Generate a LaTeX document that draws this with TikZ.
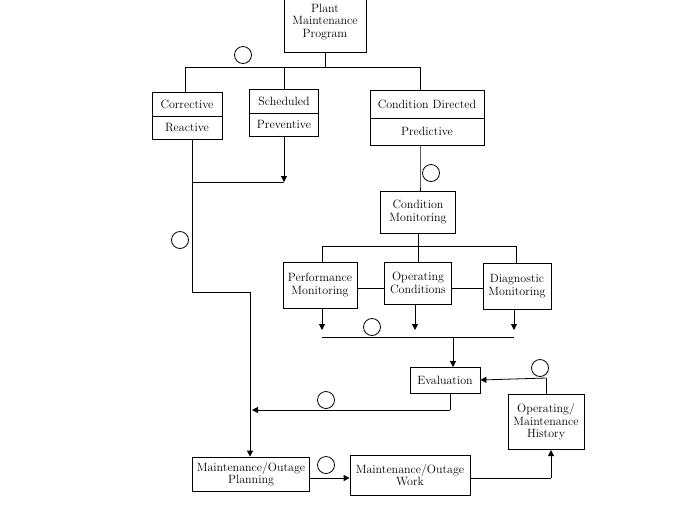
\documentclass[tikz,border=0pt]{standalone}
\usetikzlibrary{shapes.multipart,arrows.meta}
\begin{document}
\begin{tikzpicture}[x=1pt,y=-1pt,font=\normalsize,
 box/.style={draw,thick,align=center,inner sep=1pt,font=\fontsize{12}{12.5}\selectfont},
 split/.style={draw,thick,rectangle split,rectangle split parts=2,align=center,inner ysep=7pt,inner xsep=2pt,font=\fontsize{12}{13}\selectfont},
 circ/.style={draw,thick,circle,minimum size=17pt,inner sep=0pt},
 ln/.style={thick},
 ar/.style={thick,-{Triangle[length=6pt,width=6pt]}}]
\useasboundingbox (0,0) rectangle (700,507);
\node[box,minimum width=82,minimum height=60] (pm) at (325,22) {Plant\\Maintenance\\Program};
\node[circ] (c1) at (243,55) {};
\node[split,minimum width=70] (cr) at (187,116) {Corrective\nodepart{two}Reactive};
\node[split,minimum width=69] (sp) at (284,113) {Scheduled\nodepart{two}Preventive};
\node[split,minimum width=114,inner ysep=9pt] (cd) at (427,118) {Condition Directed\nodepart{two}Predictive};
\coordinate (t1) at (185,67); \coordinate (t2) at (420,67); \coordinate (tm) at (325,67);
\draw[ln] (pm.south) -- (tm);
\draw[ln] (t1) -- (t2);
\draw[ln] (t1) -- (t1 |- cr.north);
\draw[ln] (tm -| sp.north) -- (sp.north);
\draw[ln] (t2) -- (t2 |- cd.north);
\coordinate (s1) at (284,182); \coordinate (l1) at (192,182);
\draw[ar] (sp.south) -- (s1);
\draw[ln] (l1) -- (s1);
\coordinate (l2) at (192,292); \coordinate (l3) at (250,292);
\draw[ln] (cr.south -| l1) -- (l2) -- (l3);
\node[circ] (c2) at (180,240) {};
\node[circ] (c3) at (431,173) {};
\node[box,minimum width=75,minimum height=42] (cm) at (418,212) {Condition\\Monitoring};
\draw[ln] (cd.south -| 420,0) -- (420,185) -- (cm.north -| 420,0);
\coordinate (h1) at (322,246); \coordinate (h2) at (516,246);
\draw[ln] (cm.south) -- (cm.south |- h1);
\draw[ln] (h1) -- (h2);
\node[box,minimum width=74,minimum height=46] (pf) at (320,285) {Performance\\Monitoring};
\node[box,minimum width=67,minimum height=42] (oc) at (418,283) {Operating\\Conditions};
\node[box,minimum width=68,minimum height=46] (dm) at (517,286) {Diagnostic\\Monitoring};
\draw[ln] (h1) -- (h1 |- pf.north);
\draw[ln] (418,246) -- (oc.north);
\draw[ln] (h2) -- (h2 |- dm.north);
\draw[ln] (pf.east |- 0,288) -- (oc.west |- 0,288);
\draw[ln] (oc.east |- 0,288) -- (dm.west |- 0,288);
\coordinate (b1) at (322,337); \coordinate (b2) at (514,337);
\draw[ar] (pf.south -| b1) -- (322,330);
\draw[ar] (oc.south -| 415,0) -- (415,330);
\draw[ar] (dm.south -| b2) -- (514,330);
\draw[ln] (b1) -- (b2);
\node[circ] (c4) at (372,327) {};
\node[box,minimum width=70,minimum height=26] (ev) at (445,380) {Evaluation};
\draw[ar] (453,337) -- (453,367);
\node[circ] (c5) at (540,368) {};
\node[box,minimum width=76,minimum height=55] (oh) at (546,422) {Operating/\\Maintenance\\History};
\draw[ln] (oh.north) -- (546,378);
\draw[ar] (546,378) -- (ev.east);
\node[circ] (c6) at (326,400) {};
\coordinate (e1) at (450,410); \coordinate (e2) at (252,410);
\draw[ln] (ev.south -| e1) -- (e1);
\draw[ar] (e1) -- (e2);
\node[box,minimum width=117,minimum height=34] (mp) at (251,474) {Maintenance/Outage\\Planning};
\draw[ar] (l3) -- (mp.north -| l3);
\node[circ] (c7) at (326,465) {};
\node[box,minimum width=120,minimum height=40] (mw) at (410,475) {Maintenance/Outage\\Work};
\draw[ar] (mp.east |- 0,478) -- (mw.west |- 0,478);
\draw[ln] (mw.east |- 0,478) -- (551,478);
\draw[ar] (551,478) -- (551,450);
\end{tikzpicture}
\end{document}
